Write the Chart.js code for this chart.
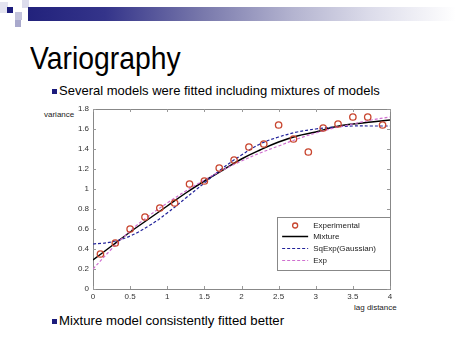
<!DOCTYPE html>
<html>
<head>
<meta charset="utf-8">
<script src="https://cdn.jsdelivr.net/npm/chart.js@4.4.1/dist/chart.umd.min.js"></script>
<style>
  html,body{margin:0;padding:0;background:#fff;}
  body{width:474px;height:355px;position:relative;overflow:hidden;font-family:"Liberation Sans",Arial,sans-serif;}
  .abs{position:absolute;white-space:nowrap;}
  #chartWrap{position:absolute;left:0;top:100px;width:474px;height:215px;}
  .bul{display:inline-block;width:5px;height:5px;background:#1c1c7c;margin-right:2px;vertical-align:1px;}
</style>
</head>
<body>
<!-- decoration -->
<div class="abs" style="left:0;top:2px;width:8px;height:11px;background:#e4e4f0;"></div>
<div class="abs" style="left:22px;top:0;width:7px;height:8px;background:#dcdcec;"></div>
<div class="abs" style="left:15px;top:12px;width:7px;height:8px;background:#c4c4dc;"></div>
<div class="abs" style="left:15px;top:20px;width:6px;height:7px;background:#a9a9cc;"></div>
<div class="abs" style="left:7px;top:7px;width:6px;height:6px;background:#1c1c7c;"></div>
<div class="abs" style="left:28px;top:7px;width:428px;height:14px;background:linear-gradient(to right,#22227c 0%,#34348a 18%,#7676aa 40%,#b4b4d0 62%,#dcdcea 80%,#ffffff 100%);"></div>

<div class="abs" style="left:30px;top:40px;font-size:32px;color:#000;transform:scaleX(0.885);transform-origin:0 0;">Variography</div>
<div class="abs" style="left:52px;top:83px;font-size:13px;color:#000;"><span class="bul"></span>Several models were fitted including mixtures of models</div>
<div class="abs" style="left:44px;top:110px;font-size:8px;color:#222;">variance</div>
<div class="abs" style="left:354px;top:303px;font-size:8px;color:#222;">lag distance</div>
<div class="abs" style="left:52px;top:313px;font-size:13.2px;color:#000;"><span class="bul"></span>Mixture model consistently fitted better</div>

<div id="chartWrap"><canvas id="c" width="474" height="215"></canvas></div>

<script>
// ---- data ----
const expLag = [0.1,0.3,0.5,0.7,0.9,1.1,1.3,1.5,1.7,1.9,2.1,2.3,2.5,2.7,2.9,3.1,3.3,3.5,3.7,3.9];
const expVar = [0.35,0.46,0.60,0.72,0.81,0.86,1.05,1.08,1.21,1.29,1.42,1.45,1.64,1.50,1.37,1.61,1.65,1.72,1.72,1.64];
const modelLag = [0,0.25,0.5,0.75,1.0,1.25,1.5,1.75,2.0,2.25,2.5,2.75,3.0,3.25,3.5,3.75,4.0];
const mixtureVar = [0.29,0.43,0.57,0.70,0.83,0.96,1.08,1.19,1.30,1.39,1.47,1.53,1.57,1.62,1.65,1.67,1.69];
const sqExpVar   = [0.45,0.47,0.53,0.63,0.76,0.91,1.06,1.21,1.34,1.45,1.52,1.57,1.60,1.62,1.63,1.63,1.63];
const expModelVar= [0.20,0.40,0.58,0.73,0.86,0.98,1.09,1.19,1.28,1.36,1.43,1.50,1.56,1.61,1.65,1.69,1.72];
const xTicks = [0,0.5,1,1.5,2,2.5,3,3.5,4];
const yTicks = [0,0.2,0.4,0.6,0.8,1,1.2,1.4,1.6,1.8];
const seriesNames = ['Experimental','Mixture','SqExp(Gaussian)','Exp'];

const pts = (xs, ys) => xs.map((x,i)=>({x:x,y:ys[i]}));
const COL_EXP = '#c8452e', COL_MIX = '#000000', COL_SQ = '#22229a', COL_EX = '#d070d0';

const framePlugin = {
  id:'frame',
  beforeDatasetsDraw(chart){
    const {ctx, chartArea:a, scales:{x,y}} = chart;
    ctx.save();
    ctx.strokeStyle = '#888'; ctx.lineWidth = 1;
    ctx.strokeRect(Math.round(a.left)+0.5, Math.round(a.top)+0.5, Math.round(a.right-a.left), Math.round(a.bottom-a.top));
    ctx.strokeStyle = '#999';
    ctx.beginPath();
    xTicks.forEach(v=>{const px=Math.round(x.getPixelForValue(v))+0.5;
      ctx.moveTo(px,a.bottom); ctx.lineTo(px,a.bottom-3);
      ctx.moveTo(px,a.top); ctx.lineTo(px,a.top+3);});
    yTicks.forEach(v=>{const py=Math.round(y.getPixelForValue(v))+0.5;
      ctx.moveTo(a.left,py); ctx.lineTo(a.left+3,py);
      ctx.moveTo(a.right,py); ctx.lineTo(a.right-3,py);});
    ctx.stroke();
    ctx.restore();
  },
  afterDraw(chart){
    const {ctx, scales:{x,y}} = chart;
    const L = x.getPixelForValue(2.48), R = x.getPixelForValue(4);
    const T = y.getPixelForValue(0.72), B = y.getPixelForValue(0.19);
    ctx.save();
    ctx.fillStyle = '#fff';
    ctx.fillRect(L, T, R-L, B-T);
    ctx.strokeStyle = '#888'; ctx.lineWidth = 1;
    ctx.strokeRect(Math.round(L)+0.5, Math.round(T)+0.5, Math.round(R-L), Math.round(B-T));
    const rows = [T+8.5, T+19.5, T+31.5, T+43.5];
    const sx1 = L+5, sx2 = L+31, tx = L+36;
    ctx.font = '8px "Liberation Sans", Arial, sans-serif';
    ctx.textBaseline = 'middle';
    ctx.fillStyle = '#222';
    seriesNames.forEach((n,i)=>ctx.fillText(n, tx, rows[i]));
    ctx.strokeStyle = COL_EXP; ctx.lineWidth = 1.3;
    ctx.beginPath(); ctx.arc((sx1+sx2)/2, rows[0], 2.5, 0, Math.PI*2); ctx.stroke();
    ctx.lineWidth = 1.5; ctx.strokeStyle = COL_MIX; ctx.setLineDash([]);
    ctx.beginPath(); ctx.moveTo(sx1, rows[1]); ctx.lineTo(sx2, rows[1]); ctx.stroke();
    ctx.lineWidth = 1.2; ctx.setLineDash([3,2]);
    ctx.strokeStyle = COL_SQ; ctx.beginPath(); ctx.moveTo(sx1, rows[2]); ctx.lineTo(sx2, rows[2]); ctx.stroke();
    ctx.strokeStyle = COL_EX; ctx.beginPath(); ctx.moveTo(sx1, rows[3]); ctx.lineTo(sx2, rows[3]); ctx.stroke();
    ctx.restore();
  }
};

const tickFont = {size:8, family:'"Liberation Sans", Arial'};
new Chart(document.getElementById('c'), {
  type:'scatter',
  data:{datasets:[
    {label:seriesNames[1], type:'line', data:pts(modelLag,mixtureVar), borderColor:COL_MIX, borderWidth:1.5, pointRadius:0, tension:0.4, fill:false, order:3},
    {label:seriesNames[2], type:'line', data:pts(modelLag,sqExpVar), borderColor:COL_SQ, borderWidth:1.2, borderDash:[3,2], pointRadius:0, tension:0.4, fill:false, order:2},
    {label:seriesNames[3], type:'line', data:pts(modelLag,expModelVar), borderColor:COL_EX, borderWidth:1.2, borderDash:[3,2], pointRadius:0, tension:0.4, fill:false, order:1},
    {label:seriesNames[0], data:pts(expLag,expVar), borderColor:COL_EXP, backgroundColor:'rgba(0,0,0,0)', borderWidth:1.3, pointRadius:3.2, pointStyle:'circle', order:0}
  ]},
  options:{
    responsive:false, animation:false,
    layout:{padding:{top:9,right:84,left:0,bottom:0}},
    plugins:{legend:{display:false}, tooltip:{enabled:false}},
    scales:{
      x:{type:'linear', min:0, max:4,
        afterBuildTicks(s){ s.ticks = xTicks.map(v=>({value:v})); },
        afterFit(s){ s.height = 26; },
        grid:{display:false, drawTicks:false}, border:{display:false},
        ticks:{font:tickFont, color:'#333', padding:3, maxRotation:0, callback:v=>String(v)}},
      y:{type:'linear', min:0, max:1.8,
        afterBuildTicks(s){ s.ticks = yTicks.map(v=>({value:v})); },
        afterFit(s){ s.width = 93; },
        grid:{display:false, drawTicks:false}, border:{display:false},
        ticks:{font:tickFont, color:'#333', padding:4, callback:v=>String(v)}}
    }
  },
  plugins:[framePlugin]
});
</script>
</body>
</html>
